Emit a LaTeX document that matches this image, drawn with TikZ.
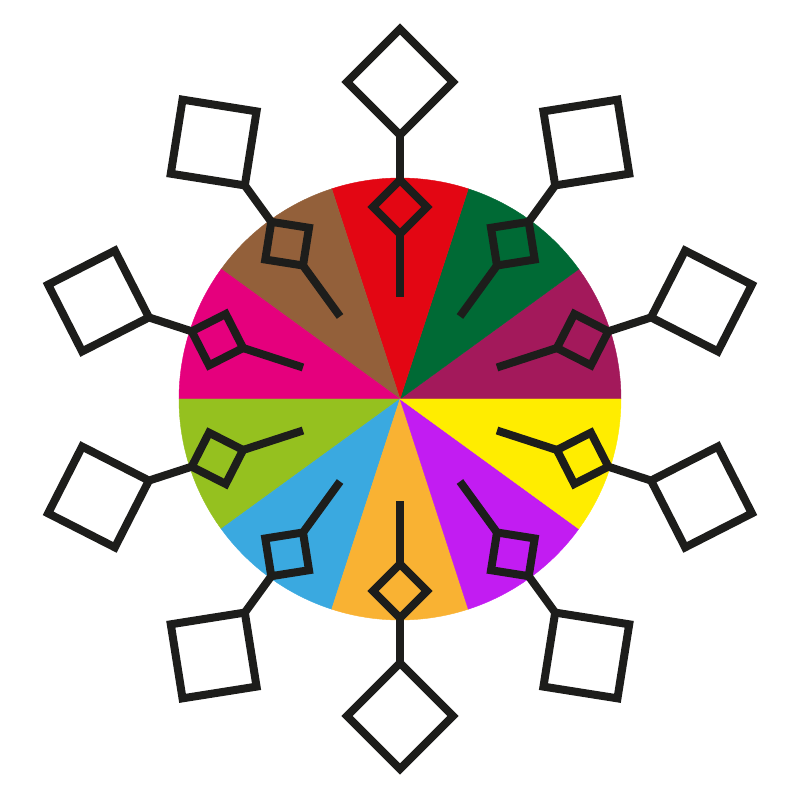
\documentclass[tikz,border=0pt]{standalone}
\usetikzlibrary{shapes.geometric}
\definecolor{inkc}{HTML}{1D1D1B}
\definecolor{wA}{HTML}{A3195B}
\definecolor{wB}{HTML}{006A35}
\definecolor{wC}{HTML}{E30613}
\definecolor{wD}{HTML}{93603A}
\definecolor{wE}{HTML}{E5007D}
\definecolor{wF}{HTML}{95C11F}
\definecolor{wG}{HTML}{3AA9E0}
\definecolor{wH}{HTML}{F9B233}
\definecolor{wI}{HTML}{C21CF2}
\definecolor{wJ}{HTML}{FFED00}
\begin{document}
\begin{tikzpicture}[x=1pt,y=1pt,
  ink/.style={line width=8pt, draw=inkc, line cap=butt, line join=miter},
  smallbox/.style={diamond, ink, aspect=1, minimum width=54pt, minimum height=54pt, inner sep=0pt, outer sep=0pt},
  bigbox/.style={diamond, ink, aspect=1, minimum width=106pt, minimum height=106pt, inner sep=0pt, outer sep=0pt},
  link/.style={ink}]
\useasboundingbox (-400,-401) rectangle (400,399);
\foreach \a/\c in {0/wA,36/wB,72/wC,108/wD,144/wE,180/wF,216/wG,252/wH,288/wI,324/wJ} {
  \filldraw[fill=\c, draw=\c, line width=0.4pt] (0,0) -- (\a:221) arc[start angle=\a, delta angle=36, radius=221] -- cycle;
}
\foreach \i in {0,...,9} {
  \pgfmathsetmacro\t{18+36*\i}
  \coordinate (s\i) at (\t:102);
  \node[smallbox, rotate=\t-90] (m\i) at (\t:192) {};
  \node[bigbox, rotate=\t-90] (b\i) at (\t:317) {};
  \draw[link] (s\i) -- (m\i.south);
  \draw[link] (m\i.north) -- (b\i.south);
}
\end{tikzpicture}
\end{document}
